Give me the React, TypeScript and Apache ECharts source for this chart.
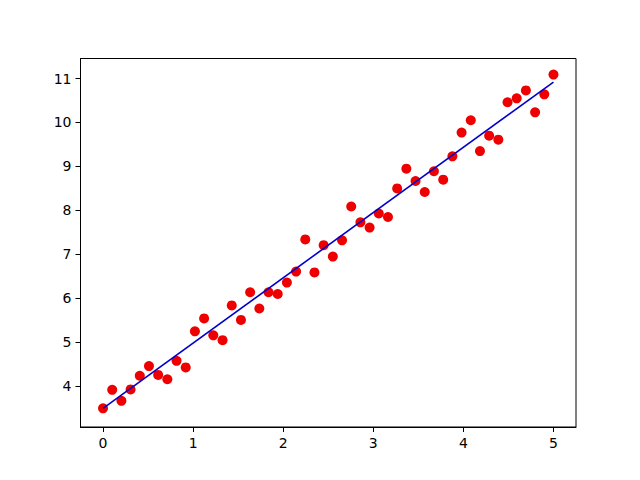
import React, { useEffect, useRef } from "react";
import * as echarts from "echarts";

const xValues: number[] = [
  0, 0.102, 0.204, 0.306, 0.408, 0.51, 0.612, 0.714, 0.816, 0.918,
  1.02, 1.122, 1.224, 1.327, 1.429, 1.531, 1.633, 1.735, 1.837, 1.939,
  2.041, 2.143, 2.245, 2.347, 2.449, 2.551, 2.653, 2.755, 2.857, 2.959,
  3.061, 3.163, 3.265, 3.367, 3.469, 3.571, 3.673, 3.776, 3.878, 3.98,
  4.082, 4.184, 4.286, 4.388, 4.49, 4.592, 4.694, 4.796, 4.898, 5,
];

const yValues: number[] = [
  3.5, 3.92, 3.67, 3.93, 4.24, 4.46, 4.26, 4.16, 4.58, 4.43,
  5.25, 5.545, 5.16, 5.05, 5.84, 5.51, 6.14, 5.77, 6.14, 6.1,
  6.36, 6.61, 7.34, 6.59, 7.21, 6.95, 7.32, 8.09, 7.73, 7.61,
  7.93, 7.85, 8.5, 8.95, 8.67, 8.42, 8.89, 8.7, 9.23, 9.77,
  10.05, 9.35, 9.7, 9.61, 10.46, 10.55, 10.73, 10.23, 10.64, 11.09,
];

const fitLineX: number[] = [0, 5];
const fitLineY: number[] = [3.5, 10.92];

const xTicks: number[] = [0, 1, 2, 3, 4, 5];
const yTicks: number[] = [4, 5, 6, 7, 8, 9, 10, 11];

export default function App() {
  const ref = useRef<HTMLDivElement>(null);
  useEffect(() => {
    if (!ref.current) return;
    const chart = echarts.init(ref.current, null, { renderer: "svg" });
    const font = "DejaVu Sans";
    chart.setOption({
      animation: false,
      backgroundColor: "#ffffff",
      grid: {
        left: 80.5,
        top: 58.5,
        right: 64,
        bottom: 53,
        show: true,
        borderColor: "#000000",
        borderWidth: 1,
        backgroundColor: "transparent",
      },
      xAxis: {
        type: "value",
        min: -0.25,
        max: 5.25,
        splitLine: { show: false },
        axisLine: { show: true, onZero: false, lineStyle: { color: "#000", width: 1 } },
        axisTick: { show: true, length: 5, customValues: xTicks, lineStyle: { color: "#000", width: 1 } },
        axisLabel: {
          customValues: xTicks,
          color: "#000",
          fontFamily: font,
          fontSize: 14,
          margin: 9,
          formatter: (v: number) => String(v),
        },
      },
      yAxis: {
        type: "value",
        min: 3.075,
        max: 11.455,
        splitLine: { show: false },
        axisLine: { show: true, onZero: false, lineStyle: { color: "#000", width: 1 } },
        axisTick: { show: true, length: 5, customValues: yTicks, lineStyle: { color: "#000", width: 1 } },
        axisLabel: {
          customValues: yTicks,
          color: "#000",
          fontFamily: font,
          fontSize: 14,
          margin: 9,
          formatter: (v: number) => String(v),
        },
      },
      series: [
        {
          type: "scatter",
          data: xValues.map((x, i) => [x, yValues[i]]),
          symbol: "circle",
          symbolSize: 10,
          itemStyle: { color: "#ee0000", opacity: 1 },
          z: 2,
        },
        {
          type: "line",
          data: fitLineX.map((x, i) => [x, fitLineY[i]]),
          showSymbol: false,
          symbol: "none",
          lineStyle: { color: "#0000cc", width: 1.6 },
          z: 3,
        },
      ],
    });
    return () => chart.dispose();
  }, []);
  return (
    <div
      ref={ref}
      style={{ position: "fixed", left: 0, top: 0, width: 640, height: 480 }}
    />
  );
}
